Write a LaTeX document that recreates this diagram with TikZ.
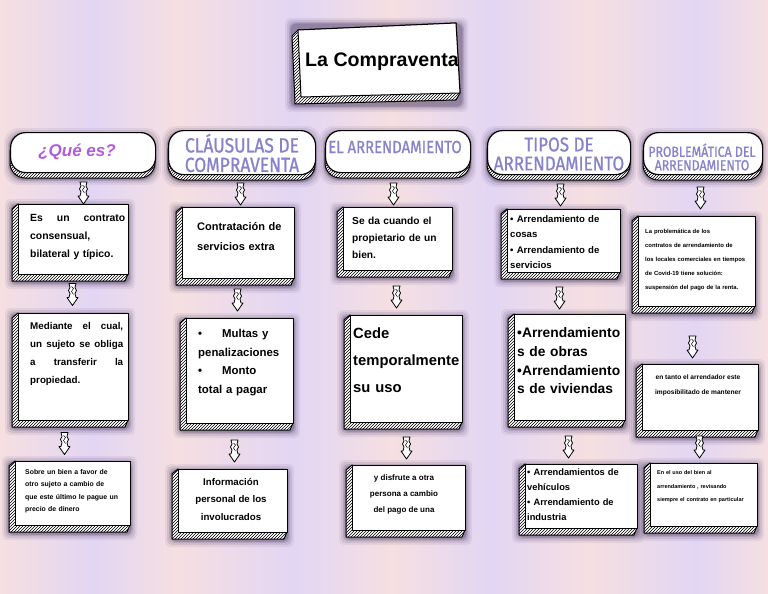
\documentclass[tikz,border=0pt]{standalone}
\usepackage{fontspec}
\setmainfont{Liberation Sans}
\newfontfamily\hfont{Fira Sans}[FakeStretch=0.85,FakeBold=0.9]
\usetikzlibrary{patterns,calc}
\definecolor{pinkbg}{HTML}{F5DFE1}
\definecolor{lavbg}{HTML}{E3D6F4}
\definecolor{shc}{HTML}{4B3B63}
\definecolor{hblue}{HTML}{8682CC}
\definecolor{hmag}{HTML}{B35BDD}
\tikzset{
  outl/.style={line width=1pt,line join=round},
  txt/.style={inner sep=0pt,anchor=north west,align=left},
  ctxt/.style={inner sep=0pt,anchor=north,align=center},
  hdtxt/.style={inner sep=0pt,align=center,text=hblue},
  darr/.pic={\draw[fill=white,line width=0.8pt,line join=round] (-3.5,-11) -- (3.5,-11) -- (2.5,-7) -- (4,-4) -- (2.5,-1) -- (3.5,3) -- (5.5,3) -- (0,11) -- (-5.5,3) -- (-3.5,3) -- (-2.5,-1) -- (-4,-4) -- (-2.5,-7) -- cycle;
    \draw[line width=.5pt] (-1,-8) -- (1,-6) -- (-1,-3) -- (1,0);}
}
\newcommand\sheet[5]{%
  \foreach \s/\o in {7/0.08,5/0.12,3/0.18,1.5/0.3}{
    \fill[shc,opacity=\o,rounded corners=5] (#2-6-\s,#3-\s+2) rectangle (#4+\s,#5+7+\s+1);}
  \fill[white] (#2,#3) -- (#2-6,#3+5) -- (#2-6,#5+7) -- (#4-3,#5+7) -- (#4,#5) -- cycle;
  \fill[pattern=north east lines,pattern color=black] (#2,#3) -- (#2-6,#3+5) -- (#2-6,#5+7) -- (#4-3,#5+7) -- (#4,#5) -- cycle;
  \draw[outl] (#2,#3) -- (#2-6,#3+5) -- (#2-6,#5+7) -- (#4-3,#5+7) -- (#4,#5) -- cycle;
  \node[draw,fill=white,outl,inner sep=0pt,minimum width={(#4-#2)*1pt},minimum height={(#5-#3)*1pt},anchor=north west] (#1) at (#2,#3) {};
}
\newcommand\header[5]{%
  \foreach \s/\o in {6/0.08,4/0.12,2/0.2,1/0.28}{
    \fill[shc,opacity=\o,rounded corners=15] (#2-\s,#3-\s+2) rectangle (#4+\s,#5+\s+1);}
  \fill[white,rounded corners=15] (#2,#3+6) rectangle (#4,#5);
  \fill[pattern=north east lines,pattern color=black,rounded corners=15] (#2,#3+6) rectangle (#4,#5);
  \draw[outl,rounded corners=15] (#2,#3+6) rectangle (#4,#5);
  \node[draw,fill=white,line width=1.2pt,rounded corners=15,inner sep=0pt,minimum width={(#4-#2)*1pt},minimum height={(#5-#3-6)*1pt},anchor=north west] (#1) at (#2,#3) {};
}
\begin{document}
\begin{tikzpicture}[x=1pt,y=-1pt]
\useasboundingbox (0,0) rectangle (768,594);
% background stripes
\foreach \a/\b/\ca/\cb in {0/93/pinkbg/lavbg,93/176/lavbg/pinkbg,176/294/pinkbg/lavbg,294/392/lavbg/pinkbg,392/490/pinkbg/lavbg,490/588/lavbg/pinkbg,588/696/pinkbg/lavbg,696/768/lavbg/pinkbg}
  \shade[left color=\ca,right color=\cb] (\a-0.3,0) rectangle (\b+0.3,594);

% title
\foreach \s/\o in {7/0.08,5/0.12,3/0.18,1.5/0.3}{
  \fill[shc,opacity=\o,rounded corners=5] (292-\s,23-\s+2) rectangle (461+\s,104+\s+1);}
\fill[white] (298,30) -- (292,36) -- (295,104) -- (456,100) -- (460,93) -- (456,23) -- cycle;
\fill[pattern=north east lines,pattern color=black] (298,30) -- (292,36) -- (295,104) -- (456,100) -- (460,93) -- (456,23) -- cycle;
\draw[outl] (298,30) -- (292,36) -- (295,104) -- (456,100) -- (460,93) -- (456,23) -- cycle;
\draw[outl,fill=white] (298,30) -- (456,23) -- (460,93) -- (301,97) -- cycle;
\node[inner sep=0pt,font=\fontsize{19.6}{22}\selectfont\bfseries] (title) at (382,62) {La Compraventa};

% headers
\header{h1}{10}{132}{155}{178}
\header{h2}{168}{130}{315}{180}
\header{h3}{325}{130}{470}{178}
\header{h4}{487}{130}{630}{180}
\header{h5}{643}{132}{762}{180}
\node[inner sep=0pt,text=hmag,font=\fontsize{17}{20}\selectfont\bfseries\itshape] (h1t) at (77,152) {¿Qué es?};
\node[hdtxt,font=\hfont\fontsize{20.5}{19.5}\selectfont] (h2t) at (242,153) {CLÁUSULAS DE\\COMPRAVENTA};
\node[hdtxt,font=\hfont\fontsize{17.5}{18}\selectfont] (h3t) at (395,147) {EL ARRENDAMIENTO};
\node[hdtxt,font=\hfont\fontsize{20}{19}\selectfont] (h4t) at (559,154) {TIPOS DE\\ARRENDAMIENTO};
\node[hdtxt,font=\hfont\fontsize{14.5}{13.5}\selectfont] (h5t) at (702,157) {PROBLEMÁTICA DEL\\ARRENDAMIENTO};

% sheets
\sheet{b11}{18}{204}{128}{274}
\sheet{b12}{18}{313}{128}{420}
\sheet{b13}{15}{461}{130}{525}
\sheet{b21}{182}{207}{294}{278}
\sheet{b22}{186}{318}{293}{423}
\sheet{b23}{178}{469}{287}{532}
\sheet{b31}{343}{207}{452}{270}
\sheet{b32}{350}{315}{462}{422}
\sheet{b33}{352}{465}{465}{530}
\sheet{b41}{507}{209}{620}{272}
\sheet{b42}{514}{314}{625}{420}
\sheet{b43}{525}{464}{637}{528}
\sheet{b51}{638}{216}{755}{306}
\sheet{b52}{642}{364}{758}{430}
\sheet{b53}{650}{463}{757}{526}

% arrows
\pic at ($(b11.north)+(10,-11)$) {darr};
\pic at ($(b12.north)+(-1,-18.5)$) {darr};
\pic at ($(b13.north)+(-8.5,-17.5)$) {darr};
\pic at ($(b21.north)+(2,-13)$) {darr};
\pic at ($(b22.north)+(-2.5,-18)$) {darr};
\pic at ($(b23.north)+(1.5,-18)$) {darr};
\pic at ($(b31.north)+(-4.5,-13)$) {darr};
\pic at ($(b32.north)+(-10,-18)$) {darr};
\pic at ($(b33.north)+(-2.5,-17)$) {darr};
\pic at ($(b41.north)+(-3.5,-14)$) {darr};
\pic at ($(b42.north)+(-10.5,-16)$) {darr};
\pic at ($(b43.north)+(-13,-17)$) {darr};
\pic at ($(b51.north)+(3.5,-18)$) {darr};
\pic at ($(b52.north)+(-8,-17)$) {darr};
\pic at ($(b53.north)+(-4.5,-16)$) {darr};

% texts
\node[txt,text width=95pt,font=\fontsize{10.4}{18}\selectfont\bfseries] (t11) at (30,214.5) {Es\hfill un\hfill contrato\\consensual,\\bilateral y típico.};
\node[txt,text width=93pt,font=\fontsize{9.8}{18}\selectfont\bfseries] (t12) at (30,322) {Mediante\hfill el\hfill cual,\\un\hfill sujeto\hfill se\hfill obliga\\a\hfill transferir\hfill la\\propiedad.};
\node[txt,text width=102pt,font=\fontsize{6.9}{12.5}\selectfont\bfseries] (t13) at (25,469) {Sobre un bien a favor de\\otro sujeto a cambio de\\que este último le pague un\\precio de dinero};
\node[txt,text width=95pt,font=\fontsize{11}{20}\selectfont\bfseries] (t21) at (197,222.5) {Contratación de\\servicios extra};
\node[txt,text width=95pt,font=\fontsize{11.4}{18.7}\selectfont\bfseries] (t22) at (198,329) {•\hspace{20pt}Multas y\\penalizaciones\\•\hspace{20pt}Monto\\total a pagar};
\node[ctxt,font=\fontsize{9.7}{17.5}\selectfont\bfseries] (t23) at (231,478) {Información\\personal de los\\involucrados};
\node[txt,text width=95pt,font=\fontsize{10.2}{17}\selectfont\bfseries] (t31) at (352,217) {Se da cuando el\\propietario de un\\bien.};
\node[txt,text width=112pt,font=\fontsize{14.8}{27}\selectfont\bfseries] (t32) at (353,328) {Cede\\temporalmente\\su uso};
\node[ctxt,font=\fontsize{8}{16}\selectfont\bfseries] (t33) at (404,474.5) {y disfrute a otra\\persona a cambio\\del pago de una};
\node[txt,text width=110pt,font=\fontsize{9.6}{15.3}\selectfont\bfseries] (t41) at (510,215.5) {• Arrendamiento de\\cosas\\• Arrendamiento de\\servicios};
\node[txt,text width=112pt,font=\fontsize{13.8}{18.7}\selectfont\bfseries] (t42) at (517,327.5) {•Arrendamiento\\s de obras\\•Arrendamiento\\s de viviendas};
\node[txt,text width=110pt,font=\fontsize{9.3}{15}\selectfont\bfseries] (t43) at (527,469) {• Arrendamientos de\\vehículos\\• Arrendamiento de\\industria};
\node[txt,text width=110pt,font=\fontsize{5.9}{14}\selectfont\bfseries] (t51) at (645,228.5) {La problemática de los\\contratos de arrendamiento de\\los locales comerciales en tiempos\\de Covid-19 tiene solución:\\suspensión del pago de la renta.};
\node[ctxt,font=\fontsize{6.6}{15}\selectfont\bfseries] (t52) at (698,375) {en tanto el arrendador este\\imposibilitado de mantener};
\node[txt,text width=100pt,font=\fontsize{5.5}{13.5}\selectfont\bfseries] (t53) at (657,470.5) {En el uso del bien al\\arrendamiento , revisando\\siempre el contrato en particular};
\end{tikzpicture}
\end{document}
